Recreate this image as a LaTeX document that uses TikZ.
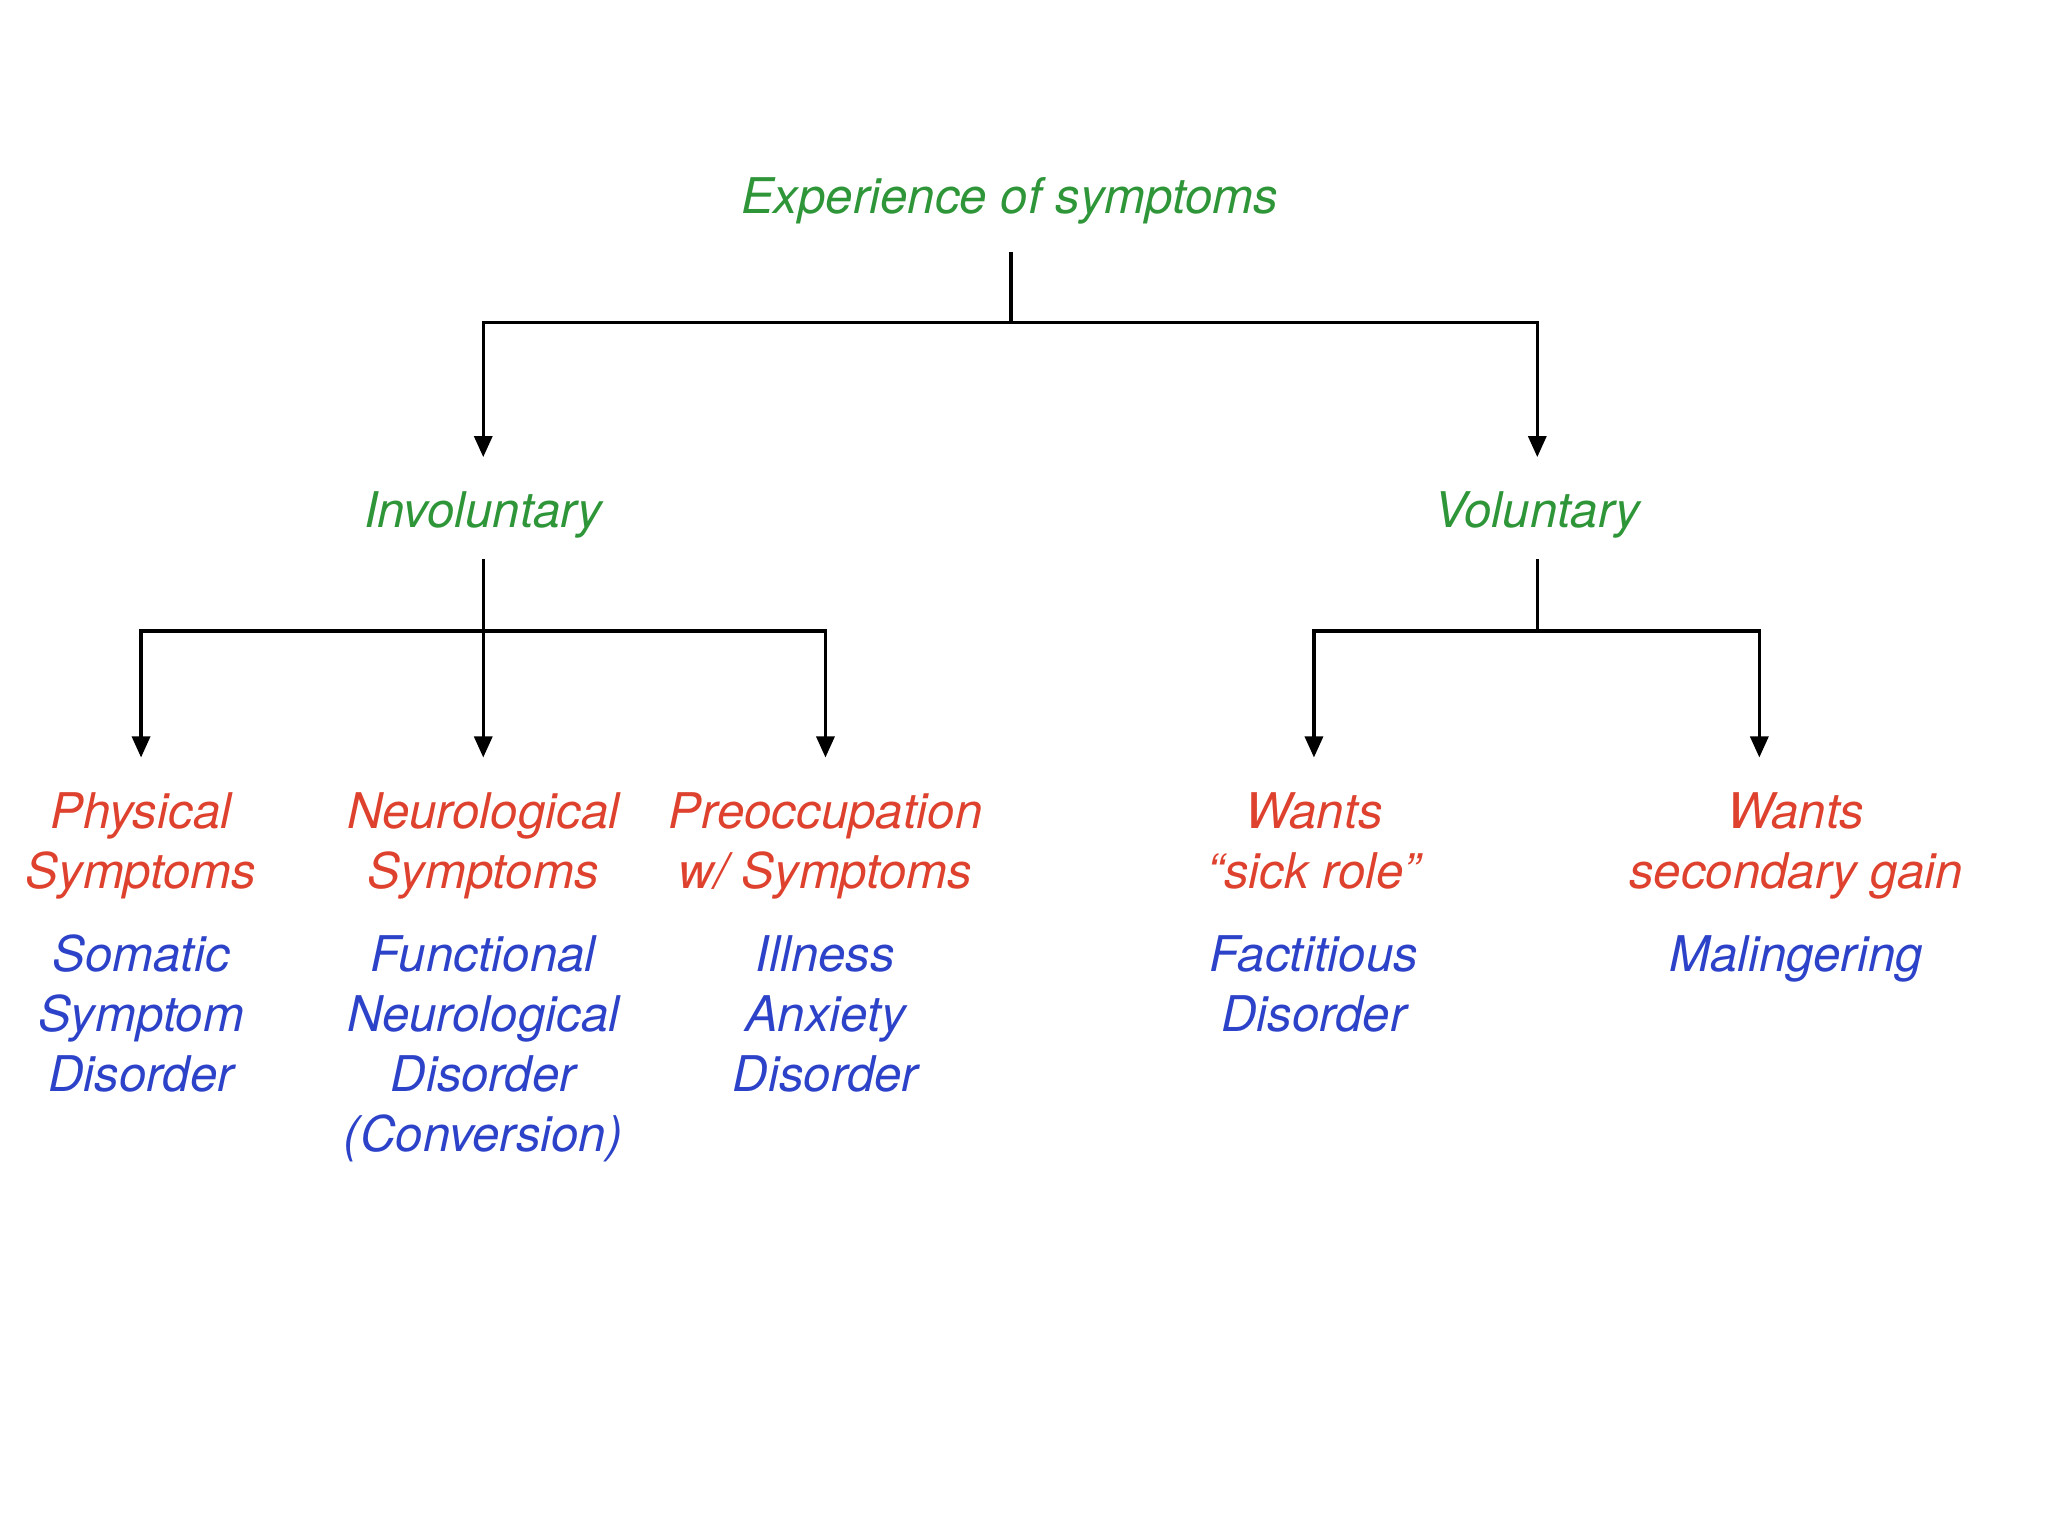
\documentclass[tikz,border=0pt]{standalone}
\usepackage{fontspec}
\setmainfont{TeX Gyre Heros}
\usetikzlibrary{arrows.meta}
\definecolor{cgreen}{RGB}{46,150,56}
\definecolor{cred}{RGB}{222,66,46}
\definecolor{cblue}{RGB}{44,66,200}
\begin{document}
\begin{tikzpicture}[x=0.01306cm,y=-0.01306cm,
  txt/.style={inner sep=0pt,anchor=base,align=center,font=\fontsize{14}{17.1}\selectfont\itshape},
  gtxt/.style={txt,text=cgreen},
  rtxt/.style={txt,text=cred},
  btxt/.style={txt,text=cblue},
  ln/.style={line width=1pt,black},
  arr/.style={ln,-{Triangle[width=5.1pt,length=6pt]}}]
\useasboundingbox (0,0) rectangle (1568,1176);
% top level
\node[gtxt] (exp) at (773,163.5) {Experience of symptoms};
\node[gtxt] (inv) at (370,403.5) {Involuntary};
\node[gtxt] (vol) at (1177,403.5) {Voluntary};
% red descriptors (anchor = baseline of last line)
\node[rtxt] (phys) at (108,680.5) {Physical\\Symptoms};
\node[rtxt] (neur) at (370,680.5) {Neurological\\Symptoms};
\node[rtxt] (preo) at (632,680.5) {Preoccupation\\w/ Symptoms};
\node[rtxt] (sick) at (1006,680.5) {Wants\\“sick role”};
\node[rtxt] (gain) at (1375,680.5) {Wants\\secondary gain};
% blue diagnoses (anchor = baseline of last line)
\node[btxt] (ssd) at (108,835.5) {Somatic\\Symptom\\Disorder};
\node[btxt] (fnd) at (370,881.5) {Functional\\Neurological\\Disorder\\(Conversion)};
\node[btxt] (iad) at (632,835.5) {Illness\\Anxiety\\Disorder};
\node[btxt] (fact) at (1006,789.5) {Factitious\\Disorder};
\node[btxt] (mal) at (1375,743.5) {Malingering};
% connector coordinates
\coordinate (es) at (774,193);
\coordinate (j0) at (774,247);
\coordinate (tinv) at (370,350);
\coordinate (tvol) at (1177,350);
\coordinate (is) at (370,428);
\coordinate (j1) at (370,483);
\coordinate (tphys) at (108,580);
\coordinate (tneur) at (370,580);
\coordinate (tpreo) at (632,580);
\coordinate (vs) at (1177,428);
\coordinate (j2) at (1177,483);
\coordinate (tsick) at (1006,580);
\coordinate (tgain) at (1347,580);
% connectors
\draw[ln] (es) -- (j0);
\draw[arr] (j0) -| (tinv);
\draw[arr] (j0) -| (tvol);
\draw[ln] (is) -- (j1);
\draw[arr] (j1) -| (tphys);
\draw[arr] (j1) -- (tneur);
\draw[arr] (j1) -| (tpreo);
\draw[ln] (vs) -- (j2);
\draw[arr] (j2) -| (tsick);
\draw[arr] (j2) -| (tgain);
\end{tikzpicture}
\end{document}
